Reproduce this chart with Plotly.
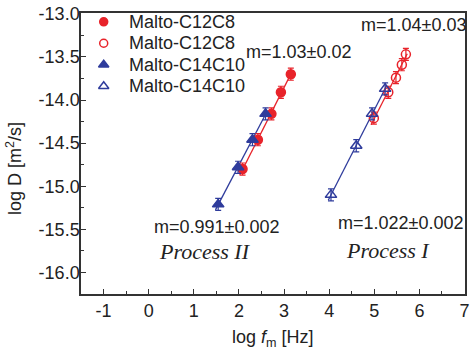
import numpy as np
import plotly.graph_objects as go

# Process II (filled markers)
c12_II_x = [2.08, 2.42, 2.72, 2.93, 3.15]
c12_II_y = [-14.80, -14.46, -14.16, -13.91, -13.70]
c14_II_x = [1.54, 1.98, 2.30, 2.59]
c14_II_y = [-15.21, -14.78, -14.46, -14.16]
# Process I (open markers)
c12_I_x = [4.99, 5.31, 5.48, 5.61, 5.70]
c12_I_y = [-14.21, -13.91, -13.74, -13.59, -13.47]
c14_I_x = [4.04, 4.60, 4.95, 5.24]
c14_I_y = [-15.10, -14.53, -14.16, -13.87]
err = 0.07

legend_names = ["Malto-C12C8", "Malto-C12C8", "Malto-C14C10", "Malto-C14C10"]
x_ticks = [-1, 0, 1, 2, 3, 4, 5, 6, 7]
x_ticklabels = ["-1", "0", "1", "2", "3", "4", "5", "6", "7"]
y_ticks = [-13.0, -13.5, -14.0, -14.5, -15.0, -15.5, -16.0]
y_ticklabels = ["-13.0", "-13.5", "-14.0", "-14.5", "-15.0", "-15.5", "-16.0"]

RED = "#e8232a"
BLUE = "#2f3c9c"
INK = "#222222"
FONT = "Liberation Sans, Arial, sans-serif"
SERIF = "Liberation Serif, Times New Roman, serif"
FS = 18

fig = go.Figure()

series = [
    (c12_II_x, c12_II_y, RED, "circle", 9),
    (c12_I_x, c12_I_y, RED, "circle-open", 9),
    (c14_II_x, c14_II_y, BLUE, "triangle-up", 10),
    (c14_I_x, c14_I_y, BLUE, "triangle-up-open", 10),
]

# linear fit lines
for xs, ys, col, sym, sz in series:
    m, b = np.polyfit(xs, ys, 1)
    xl = np.array([min(xs) - 0.06, max(xs) + 0.03])
    fig.add_trace(go.Scatter(x=xl, y=m * xl + b, mode="lines",
                             line=dict(color=col, width=1.3),
                             showlegend=False, hoverinfo="skip"))

for (xs, ys, col, sym, sz), nm in zip(series, legend_names):
    fig.add_trace(go.Scatter(
        x=xs, y=ys, mode="markers", name=nm, showlegend=False,
        marker=dict(symbol=sym, size=sz, color=col,
                    line=dict(color=col, width=1.5)),
        error_y=dict(type="constant", value=err, color=col,
                     thickness=1.2, width=3),
    ))

# custom legend on an overlay axis measured in plot-area pixels
L, R, T, B = 81, 470, 6, 294
leg_rows = [15, 37, 59, 81]
for (xs, ys, col, sym, sz), nm, ry in zip(series, legend_names, leg_rows):
    fig.add_trace(go.Scatter(
        x=[104], y=[ry], mode="markers", xaxis="x2", yaxis="y2",
        showlegend=False, hoverinfo="skip",
        marker=dict(symbol=sym, size=sz - 1, color=col,
                    line=dict(color=col, width=1.5))))
    fig.add_annotation(x=128, y=ry, xref="x2", yref="y2", text=nm,
                       showarrow=False, xanchor="left", yanchor="middle",
                       font=dict(size=FS, family=FONT, color=INK))

axis_common = dict(showgrid=False, zeroline=False, showline=True,
                   linecolor="#333", linewidth=1.5, mirror=True,
                   ticks="inside", ticklen=5, tickwidth=1.2,
                   tickcolor="#333", tickfont=dict(size=FS, color=INK),
                   ticklabeloverflow="allow")

fig.update_layout(
    width=474, height=351,
    margin=dict(l=L, r=474 - R, t=T, b=351 - B),
    paper_bgcolor="white", plot_bgcolor="white",
    font=dict(family=FONT, size=FS, color=INK),
    showlegend=False,
    xaxis=dict(range=[-1.5, 7.01], tickvals=x_ticks, ticktext=x_ticklabels,
               minor=dict(ticks="inside", dtick=0.5, ticklen=3,
                          tickcolor="#333", showgrid=False),
               **axis_common),
    yaxis=dict(range=[-16.25, -12.99], tickvals=y_ticks,
               ticktext=y_ticklabels, ticklabelstandoff=-4,
               minor=dict(ticks="inside", dtick=0.25, ticklen=3,
                          tickcolor="#333", showgrid=False),
               **axis_common),
    xaxis2=dict(overlaying="x", range=[L, R], visible=False, fixedrange=True),
    yaxis2=dict(overlaying="y", range=[B, T], visible=False, fixedrange=True),
)

# axis titles
fig.add_annotation(xref="paper", yref="paper", x=(13 - L) / (R - L),
                   y=(B - 165) / (B - T), text="log D [m<sup>2</sup>/s]",
                   textangle=-90, showarrow=False,
                   xanchor="center", yanchor="middle",
                   font=dict(size=FS, family=FONT, color=INK))
fig.add_annotation(xref="paper", yref="paper", x=(275 - L) / (R - L),
                   y=(B - 340) / (B - T),
                   text="log <i>f</i><sub>m</sub> [Hz]", showarrow=False,
                   xanchor="center", yanchor="middle",
                   font=dict(size=FS, family=FONT, color=INK))

ann = [
    ("m=1.03±0.02", 3.32, -13.44),
    ("m=1.04±0.03", 5.86, -13.13),
    ("m=0.991±0.002", 1.51, -15.47),
    ("m=1.022±0.002", 5.57, -15.43),
]
for t, x, y in ann:
    fig.add_annotation(x=x, y=y, text=t, showarrow=False,
                       xanchor="center", yanchor="middle",
                       font=dict(size=FS, family=FONT, color=INK))
fig.add_annotation(x=1.25, y=-15.76, text="<i>Process II</i>", showarrow=False,
                   xanchor="center", yanchor="middle",
                   font=dict(size=22, family=SERIF, color=INK))
fig.add_annotation(x=5.30, y=-15.75, text="<i>Process I</i>", showarrow=False,
                   xanchor="center", yanchor="middle",
                   font=dict(size=22, family=SERIF, color=INK))

fig.write_html("out.html")
